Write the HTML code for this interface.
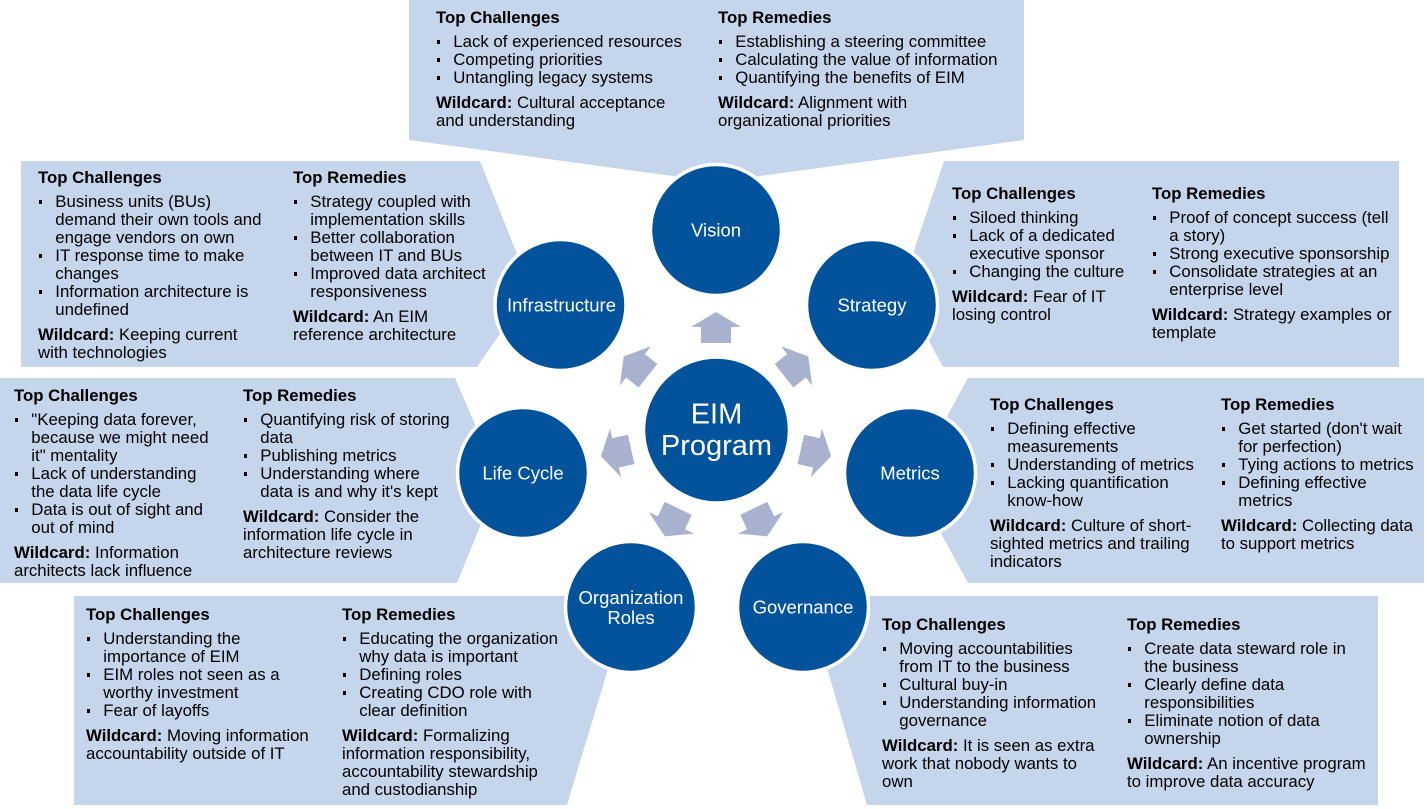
<!DOCTYPE html>
<html>
<head>
<meta charset="utf-8">
<style>
  html,body{margin:0;padding:0;background:#fff;}
  #wrap{position:relative;width:1427px;height:809px;overflow:hidden;background:#fff;}
  svg{position:absolute;left:0;top:0;}
  .col{position:absolute;font-family:"Liberation Sans",Arial,sans-serif;font-size:16.8px;line-height:18px;color:#000;white-space:nowrap;padding-top:1px;}
  .col .h{font-weight:bold;}
  .col ul{margin:6px 0 0 0;padding:0;list-style:none;}
  .col li{position:relative;padding-left:17.3px;}
  .col li::before{content:"";position:absolute;left:0.5px;top:7.2px;width:3.8px;height:3.8px;background:#000;}
  .col p{margin:7px 0 0 0;}
  .col b{font-weight:bold;}
</style>
</head>
<body>
<div id="wrap">
<svg width="1427" height="809" viewBox="0 0 1427 809" xmlns="http://www.w3.org/2000/svg">
  <g fill="#c5d5ec">
    <polygon points="409,0 1024,0 1024,140 716,182 409,140"/>
    <polygon points="21,161 480,161 531,289 477,367 21,367"/>
    <polygon points="944,161 1399,161 1399,367 943,367 901,289"/>
    <polygon points="0,378 455,378 499,480 457,583 0,583"/>
    <polygon points="968,378 1424,378 1424,583 968,583 912,480"/>
    <polygon points="74,596 630,596 567,805 74,805"/>
    <polygon points="806,596 1378,596 1378,805 867,805"/>
  </g>
  <g fill="#a8b2ce">
    <g transform="translate(716,430)">
      <polygon transform="rotate(-90)" points="87,-15 103,-15 103,-25 118,0 103,25 103,15 87,15"/>
      <polygon transform="rotate(-38.57)" points="87,-15 103,-15 103,-25 118,0 103,25 103,15 87,15"/>
      <polygon transform="rotate(12.86)" points="87,-15 103,-15 103,-25 118,0 103,25 103,15 87,15"/>
      <polygon transform="rotate(64.29)" points="87,-15 103,-15 103,-25 118,0 103,25 103,15 87,15"/>
      <polygon transform="rotate(115.71)" points="87,-15 103,-15 103,-25 118,0 103,25 103,15 87,15"/>
      <polygon transform="rotate(167.14)" points="87,-15 103,-15 103,-25 118,0 103,25 103,15 87,15"/>
      <polygon transform="rotate(218.57)" points="87,-15 103,-15 103,-25 118,0 103,25 103,15 87,15"/>
    </g>
  </g>
  <g fill="#02529c" stroke="#ffffff" stroke-width="3.5">
    <circle cx="716" cy="230" r="65.5"/>
    <circle cx="872" cy="305" r="65.5"/>
    <circle cx="560.5" cy="305" r="65.5"/>
    <circle cx="523" cy="473" r="65.5"/>
    <circle cx="910" cy="473" r="65.5"/>
    <circle cx="631" cy="607" r="65.5"/>
    <circle cx="803" cy="607" r="65.5"/>
    <circle cx="716.5" cy="430" r="73"/>
  </g>
  <g fill="#ffffff" font-family="Liberation Sans, Arial, sans-serif" font-size="18.5" text-anchor="middle">
    <text x="716" y="236.6">Vision</text>
    <text x="872" y="311.6">Strategy</text>
    <text x="561.5" y="311.6">Infrastructure</text>
    <text x="523" y="479.6">Life Cycle</text>
    <text x="910" y="479.6">Metrics</text>
    <text x="631" y="604">Organization</text>
    <text x="631" y="624">Roles</text>
    <text x="803" y="613.6">Governance</text>
    <text x="716.5" y="423.5" font-size="29">EIM</text>
    <text x="716.5" y="455" font-size="29">Program</text>
  </g>
</svg>

<!-- Vision -->
<div class="col" style="left:436px;top:8px;">
  <div class="h">Top Challenges</div>
  <ul><li>Lack of experienced resources</li><li>Competing priorities</li><li>Untangling legacy systems</li></ul>
  <p><b>Wildcard:</b> Cultural acceptance<br>and understanding</p>
</div>
<div class="col" style="left:718px;top:8px;">
  <div class="h">Top Remedies</div>
  <ul><li>Establishing a steering committee</li><li>Calculating the value of information</li><li>Quantifying the benefits of EIM</li></ul>
  <p><b>Wildcard:</b> Alignment with<br>organizational priorities</p>
</div>

<!-- Infrastructure -->
<div class="col" style="left:38px;top:168px;">
  <div class="h">Top Challenges</div>
  <ul><li>Business units (BUs)<br>demand their own tools and<br>engage vendors on own</li><li>IT response time to make<br>changes</li><li>Information architecture is<br>undefined</li></ul>
  <p><b>Wildcard:</b> Keeping current<br>with technologies</p>
</div>
<div class="col" style="left:293px;top:168px;">
  <div class="h">Top Remedies</div>
  <ul><li>Strategy coupled with<br>implementation skills</li><li>Better collaboration<br>between IT and BUs</li><li>Improved data architect<br>responsiveness</li></ul>
  <p><b>Wildcard:</b> An EIM<br>reference architecture</p>
</div>

<!-- Strategy -->
<div class="col" style="left:952px;top:184px;">
  <div class="h">Top Challenges</div>
  <ul><li>Siloed thinking</li><li>Lack of a dedicated<br>executive sponsor</li><li>Changing the culture</li></ul>
  <p><b>Wildcard:</b> Fear of IT<br>losing control</p>
</div>
<div class="col" style="left:1152px;top:184px;">
  <div class="h">Top Remedies</div>
  <ul><li>Proof of concept success (tell<br>a story)</li><li>Strong executive sponsorship</li><li>Consolidate strategies at an<br>enterprise level</li></ul>
  <p><b>Wildcard:</b> Strategy examples or<br>template</p>
</div>

<!-- Life Cycle -->
<div class="col" style="left:14px;top:386px;">
  <div class="h">Top Challenges</div>
  <ul><li>"Keeping data forever,<br>because we might need<br>it" mentality</li><li>Lack of understanding<br>the data life cycle</li><li>Data is out of sight and<br>out of mind</li></ul>
  <p><b>Wildcard:</b> Information<br>architects lack influence</p>
</div>
<div class="col" style="left:243px;top:386px;">
  <div class="h">Top Remedies</div>
  <ul><li>Quantifying risk of storing<br>data</li><li>Publishing metrics</li><li>Understanding where<br>data is and why it's kept</li></ul>
  <p><b>Wildcard:</b> Consider the<br>information life cycle in<br>architecture reviews</p>
</div>

<!-- Metrics -->
<div class="col" style="left:990px;top:395px;">
  <div class="h">Top Challenges</div>
  <ul><li>Defining effective<br>measurements</li><li>Understanding of metrics</li><li>Lacking quantification<br>know-how</li></ul>
  <p><b>Wildcard:</b> Culture of short-<br>sighted metrics and trailing<br>indicators</p>
</div>
<div class="col" style="left:1221px;top:395px;">
  <div class="h">Top Remedies</div>
  <ul><li>Get started (don't wait<br>for perfection)</li><li>Tying actions to metrics</li><li>Defining effective<br>metrics</li></ul>
  <p><b>Wildcard:</b> Collecting data<br>to support metrics</p>
</div>

<!-- Organization Roles -->
<div class="col" style="left:86px;top:605px;">
  <div class="h">Top Challenges</div>
  <ul><li>Understanding the<br>importance of EIM</li><li>EIM roles not seen as a<br>worthy investment</li><li>Fear of layoffs</li></ul>
  <p><b>Wildcard:</b> Moving information<br>accountability outside of IT</p>
</div>
<div class="col" style="left:342px;top:605px;">
  <div class="h">Top Remedies</div>
  <ul><li>Educating the organization<br>why data is important</li><li>Defining roles</li><li>Creating CDO role with<br>clear definition</li></ul>
  <p><b>Wildcard:</b> Formalizing<br>information responsibility,<br>accountability stewardship<br>and custodianship</p>
</div>

<!-- Governance -->
<div class="col" style="left:882px;top:615px;">
  <div class="h">Top Challenges</div>
  <ul><li>Moving accountabilities<br>from IT to the business</li><li>Cultural buy-in</li><li>Understanding information<br>governance</li></ul>
  <p><b>Wildcard:</b> It is seen as extra<br>work that nobody wants to<br>own</p>
</div>
<div class="col" style="left:1127px;top:615px;">
  <div class="h">Top Remedies</div>
  <ul><li>Create data steward role in<br>the business</li><li>Clearly define data<br>responsibilities</li><li>Eliminate notion of data<br>ownership</li></ul>
  <p><b>Wildcard:</b> An incentive program<br>to improve data accuracy</p>
</div>

</div>
</body>
</html>
